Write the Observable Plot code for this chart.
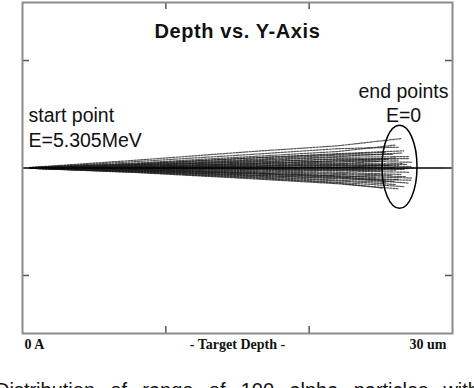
<!DOCTYPE html>
<html><head><meta charset="utf-8">
<script src="https://cdn.jsdelivr.net/npm/d3@7"></script>
<script src="https://cdn.jsdelivr.net/npm/@observablehq/plot@0.6"></script>
<style>
html,body{margin:0;padding:0;background:#fff;overflow:hidden;width:474px;height:388px}
#caption{font-family:"Liberation Sans",Arial,sans-serif;font-size:20px;line-height:24px;width:484px;margin-left:-5px;margin-top:6px;text-align:justify;text-align-last:justify;color:#111}
</style></head><body><div id="chart"></div><div id="caption"></div>
<script>
// ---- data ----
const title = "Depth vs. Y-Axis";
const startLabel = ["start point", "E=5.305MeV"];
const endLabel = ["end points", "E=0"];
const axisLabels = ["0 A", "- Target Depth -", "30 um"];
const captionText = "Distribution of range of 100 alpha particles with";
const xTicks = [10, 20];          // target depth (um)
const yTicks = [-7.5, 0, 7.5];    // lateral (um)
const stations = [0, 8, 16, 22];  // depths (um) where lateral offsets were read
// each track: [lateral at 8um, at 16um, at 22um, end depth, end lateral]
const tracks = [
  [0.55, 1.15, 1.55, 26.4, 2.05],
  [0.45, 0.95, 1.35, 26.3, 1.45],
  [0.35, 0.80, 1.15, 26.0, 1.60],
  [0.30, 0.70, 1.00, 26.6, 1.20],
  [0.25, 0.60, 0.90, 25.8, 0.95],
  [0.20, 0.50, 0.75, 27.0, 0.80],
  [0.15, 0.45, 0.60, 26.2, 0.55],
  [0.10, 0.35, 0.50, 27.2, 0.40],
  [0.12, 0.30, 0.42, 25.5, 0.60],
  [0.05, 0.25, 0.35, 26.8, 0.25],
  [0.08, 0.20, 0.30, 24.8, 0.45],
  [0.02, 0.15, 0.25, 27.1, 0.10],
  [0.04, 0.10, 0.18, 26.5, 0.30],
  [0.00, 0.05, 0.12, 25.9, 0.05],
  [-0.02, 0.00, 0.05, 26.9, -0.05],
  [0.03, 0.08, 0.00, 27.3, 0.00],
  [-0.05, -0.05, -0.08, 26.1, -0.15],
  [-0.03, -0.10, -0.15, 25.2, -0.20],
  [-0.08, -0.15, -0.20, 27.0, -0.30],
  [-0.06, -0.20, -0.30, 26.4, -0.45],
  [-0.10, -0.25, -0.38, 25.7, -0.50],
  [-0.12, -0.30, -0.45, 26.7, -0.60],
  [-0.15, -0.35, -0.55, 24.6, -0.65],
  [-0.18, -0.42, -0.65, 26.2, -0.80],
  [-0.20, -0.50, -0.75, 27.1, -0.85],
  [-0.22, -0.55, -0.85, 25.4, -1.00],
  [-0.25, -0.60, -0.90, 26.0, -1.15],
  [-0.28, -0.65, -1.00, 26.6, -1.30],
  [-0.30, -0.70, -1.05, 25.1, -1.40],
  [-0.32, -0.75, -1.10, 26.2, -1.45],
  [-0.20, -0.50, -0.70, 26.9, -1.05],
  [0.18, 0.55, 0.80, 26.5, 1.05],
  [0.28, 0.70, 0.95, 25.3, 1.10],
  [0.10, 0.30, 0.50, 26.0, 0.70],
  [-0.10, -0.35, -0.55, 27.2, -0.70],
  [0.06, 0.15, 0.20, 26.3, 0.15],
  [-0.04, -0.08, -0.12, 26.6, -0.10],
  [0.00, -0.02, 0.02, 25.6, 0.20],
  [-0.14, -0.40, -0.60, 25.9, -0.95],
  [0.22, 0.40, 0.65, 27.0, 0.65]
];
const endZone = {depth: 26.34, lateral: 0.05, rDepth: 1.22, rLateral: 2.9};

// ---- build table ----
const rows = [];
tracks.forEach((t, i) => {
  const lat = [0, t[0], t[1], t[2]];
  stations.forEach((s, k) => rows.push({track: i, depth: s, lateral: lat[k]}));
  rows.push({track: i, depth: t[3], lateral: t[4]});
});

const W = 474, H = 372, mT = 2, mB = 39, mL = 22, mR = 22;
const innerW = W - mL - mR, innerH = H - mT - mB;
const sans = "'Liberation Sans', Arial, sans-serif";
const serif = "'Liberation Serif', 'Times New Roman', serif";

function ellipseMark(index, scales) {
  const x = scales.x, y = scales.y;
  const cx = x(endZone.depth), cy = y(endZone.lateral);
  const rx = Math.abs(x(endZone.depth + endZone.rDepth) - cx);
  const ry = Math.abs(y(endZone.lateral + endZone.rLateral) - cy);
  const el = document.createElementNS("http://www.w3.org/2000/svg", "ellipse");
  el.setAttribute("cx", cx); el.setAttribute("cy", cy);
  el.setAttribute("rx", rx); el.setAttribute("ry", ry);
  el.setAttribute("fill", "none"); el.setAttribute("stroke", "#000");
  el.setAttribute("stroke-width", 1.5);
  return el;
}

const chart = Plot.plot({
  width: W, height: H,
  marginTop: mT, marginBottom: mB, marginLeft: mL, marginRight: mR,
  x: {domain: [0, 30], axis: null},
  y: {domain: [-11.55, 11.55], axis: null},
  style: {background: "white", overflow: "visible"},
  marks: [
    Plot.line(rows, {x: "depth", y: "lateral", z: "track", stroke: "#1e1e1e",
      strokeWidth: 1.2, strokeOpacity: 0.75, strokeDasharray: "2,1.2"}),
    Plot.ruleY([0], {stroke: "#000", strokeWidth: 1.6}),
    ellipseMark,
    Plot.ruleX(xTicks, {insetTop: innerH - 7, stroke: "#555", strokeWidth: 1.5}),
    Plot.ruleX(xTicks, {insetBottom: innerH - 7, stroke: "#555", strokeWidth: 1.5}),
    Plot.ruleY(yTicks, {insetRight: innerW - 7, stroke: "#555", strokeWidth: 1.5}),
    Plot.ruleY(yTicks, {insetLeft: innerW - 7, stroke: "#555", strokeWidth: 1.5}),
    Plot.frame({stroke: "#8c8c8c", strokeWidth: 2}),
    Plot.text([title], {text: d => d, frameAnchor: "top", lineAnchor: "bottom", dy: 35,
      fontSize: 20, fontWeight: "bold", fontFamily: sans, fill: "#111"}),
    Plot.text([startLabel[0]], {text: d => d, frameAnchor: "top-left", textAnchor: "start",
      lineAnchor: "bottom", dx: 6, dy: 119, fontSize: 19.5, fontFamily: sans, fill: "#111"}),
    Plot.text([startLabel[1]], {text: d => d, frameAnchor: "top-left", textAnchor: "start",
      lineAnchor: "bottom", dx: 6, dy: 144, fontSize: 19.5, fontFamily: sans, fill: "#111"}),
    Plot.text([endLabel[0]], {text: d => d, frameAnchor: "top-right", textAnchor: "middle",
      lineAnchor: "bottom", dx: -49, dy: 95, fontSize: 19.5, fontFamily: sans, fill: "#111"}),
    Plot.text([endLabel[1]], {text: d => d, frameAnchor: "top-right", textAnchor: "middle",
      lineAnchor: "bottom", dx: -49, dy: 119, fontSize: 19.5, fontFamily: sans, fill: "#111"}),
    Plot.text([axisLabels[0]], {text: d => d, frameAnchor: "bottom-left", textAnchor: "start",
      lineAnchor: "bottom", dx: 2, dy: 15, fontSize: 14, fontWeight: "bold", fontFamily: serif, fill: "#111"}),
    Plot.text([axisLabels[1]], {text: d => d, frameAnchor: "bottom", textAnchor: "middle",
      lineAnchor: "bottom", dx: 0, dy: 15, fontSize: 14, fontWeight: "bold", fontFamily: serif, fill: "#111"}),
    Plot.text([axisLabels[2]], {text: d => d, frameAnchor: "bottom-right", textAnchor: "end",
      lineAnchor: "bottom", dx: -6, dy: 15, fontSize: 14, fontWeight: "bold", fontFamily: serif, fill: "#111"})
  ]
});
d3.select(chart).selectAll("text").filter(function () { return this.textContent === title; })
  .style("letter-spacing", "0.6px");
document.getElementById("chart").appendChild(chart);
document.getElementById("caption").textContent = captionText;
</script></body></html>
